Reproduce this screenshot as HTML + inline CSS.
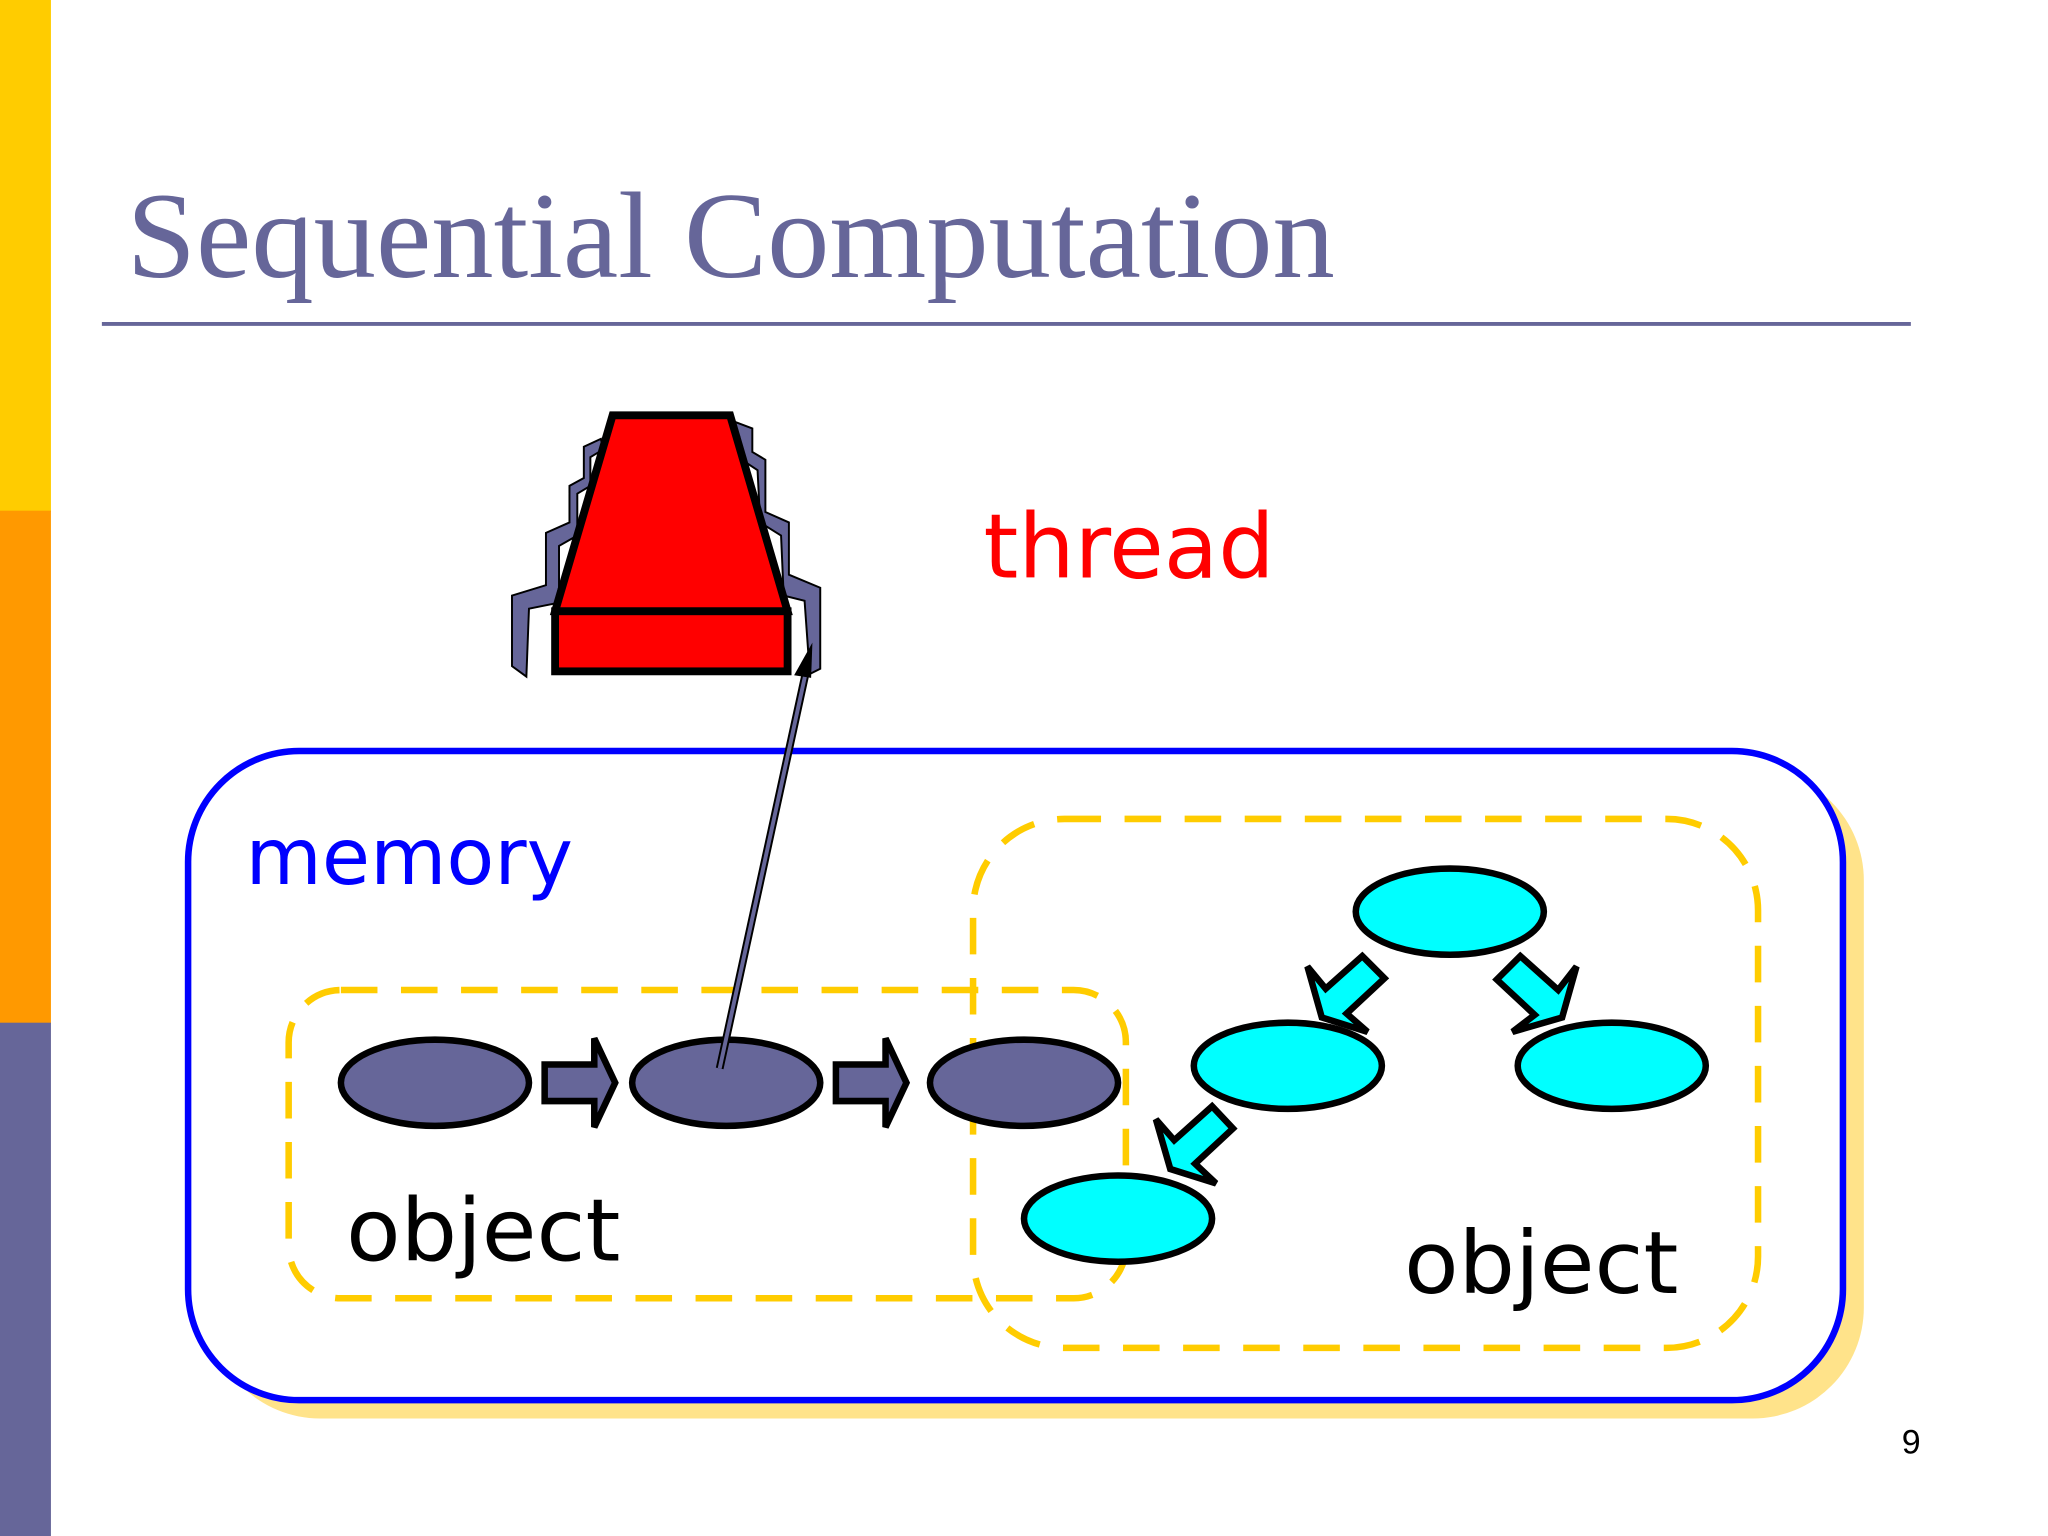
<!DOCTYPE html>
<html><head><style>html,body{margin:0;padding:0;background:#fff;width:2048px;height:1536px;overflow:hidden}</style></head>
<body>
<svg width="2048" height="1536" viewBox="0 0 1568 1176" xmlns="http://www.w3.org/2000/svg">
<rect x="0" y="0" width="39" height="392" fill="#FFCC00"/>
<rect x="0" y="391" width="39" height="393" fill="#FF9900"/>
<rect x="0" y="783" width="39" height="393" fill="#666699"/>
<text x="97" y="212" font-family="Liberation Serif, serif" font-size="94" fill="#666699" textLength="925" lengthAdjust="spacingAndGlyphs">Sequential Computation</text>
<line x1="78" y1="248" x2="1463" y2="248" stroke="#666699" stroke-width="3"/>
<!-- memory box -->
<rect x="160" y="589" width="1267" height="497" rx="85" fill="#FFE38A"/>
<rect x="144" y="575" width="1267" height="497" rx="85" fill="#fff" stroke="#0000FF" stroke-width="5"/>
<text x="188" y="677" font-family="DejaVu Sans, sans-serif" font-size="60" fill="#0000FF">memory</text>
<text x="753" y="442" font-family="DejaVu Sans, sans-serif" font-size="68" fill="#FF0000">thread</text>
<!-- dashed boxes -->
<rect x="221" y="758" width="641" height="236" rx="40" fill="none" stroke="#FFCC00" stroke-width="5" stroke-dasharray="28,18"/>
<rect x="745" y="627" width="601" height="405" rx="70" fill="none" stroke="#FFCC00" stroke-width="5" stroke-dasharray="28,18"/>
<!-- purple ellipses -->
<g fill="#666699" stroke="#000" stroke-width="5">
<ellipse cx="333" cy="829" rx="72" ry="33"/>
<ellipse cx="556" cy="829" rx="72" ry="33"/>
<ellipse cx="784" cy="829" rx="72" ry="33"/>
</g>
<g fill="#666699" stroke="#000" stroke-width="5">
<polygon points="417,815 455,815 455,795 471,829 455,863 455,843 417,843"/>
<polygon points="640,815 678,815 678,795 694,829 678,863 678,843 640,843"/>
</g>
<!-- cyan -->
<g fill="#00FFFF" stroke="#000" stroke-width="5">
<ellipse cx="1110" cy="698" rx="72" ry="33"/>
<ellipse cx="986" cy="816" rx="72" ry="33"/>
<ellipse cx="1234" cy="816" rx="72" ry="33"/>
<ellipse cx="856" cy="933" rx="72" ry="33"/>
<polygon points="1043,732 1060,749 1031,776 1047,790 1012,779 1001,740 1015,757"/>
<polygon points="1164,732 1146,750 1175,777 1158,790 1196,779 1207,740 1193,758"/>
<polygon points="928,847 944,864 915,891 931,906 896,895 885,857 899,873"/>
</g>
<!-- thread legs -->
<g fill="#666699" stroke="#000" stroke-width="1.5">
<polygon points="460,336 447,342 447,366 436,372 436,400 418,408 418,448 392,456 392,510 403,518 405,466 425,462 428,450 428,418 442,410 442,378 452,372 452,350 462,344"/>
<polygon points="560,322 576,328 576,346 586,352 586,392 604,400 604,440 628,450 628,512 620,516 616,460 600,456 598,410 582,400 580,360 568,352 566,334"/>
</g>
<!-- thread body -->
<polygon points="469,318 559,318 603,468 425,468" fill="#FF0000" stroke="#000" stroke-width="6" stroke-linejoin="miter"/>
<rect x="425" y="468" width="178" height="46" fill="#FF0000" stroke="#000" stroke-width="6"/>
<!-- pointer -->
<line x1="551" y1="818" x2="618" y2="510" stroke="#000" stroke-width="6"/>
<line x1="551" y1="818" x2="618" y2="510" stroke="#666699" stroke-width="3"/>
<polygon points="608,517 622,492 621,519" fill="#000"/>
<text x="265" y="965" font-family="DejaVu Sans, sans-serif" font-size="66" fill="#000" textLength="210" lengthAdjust="spacingAndGlyphs">object</text>
<text x="1075" y="990" font-family="DejaVu Sans, sans-serif" font-size="66" fill="#000" textLength="210" lengthAdjust="spacingAndGlyphs">object</text>
<text x="1456" y="1113" font-family="Liberation Sans, sans-serif" font-size="26" fill="#000">9</text>
</svg>
</body></html>
